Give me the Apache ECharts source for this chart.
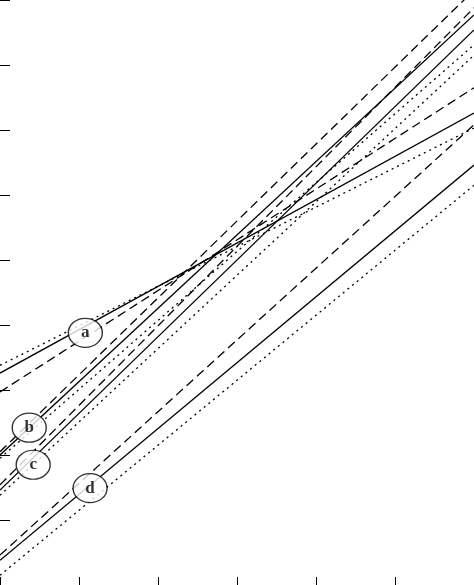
<!DOCTYPE html>
<html>
<head>
<meta charset="utf-8">
<script src="https://cdn.jsdelivr.net/npm/echarts@6/dist/echarts.min.js"></script>
<style>html,body{margin:0;padding:0;background:#fff}#chart{width:474px;height:585px}</style>
</head>
<body>
<div id="chart"></div>
<script>
// x positions of the two ends of each straight line
var xEnds = [0, 6];

// y values at the ends, [solid, dashed, dotted] per group
var aSolid = [3.26, 7.26], aDashed = [2.97, 7.65], aDotted = [3.38, 7.03];
var bSolid = [2.00, 8.77], bDashed = [2.05, 9.15], bDotted = [1.95, 8.31];
var cSolid = [1.46, 8.54], cDashed = [1.54, 8.88], cDotted = [1.38, 8.15];
var dSolid = [0.38, 6.46], dDashed = [0.46, 7.08], dDotted = [0.15, 6.15];

// circled labels
var labelNames = ['a', 'b', 'c', 'd'];
var labelX = [1.08, 0.37, 0.42, 1.14];
var labelY = [3.88, 2.42, 1.85, 1.49];

var styles = {
  solid: 'solid',
  dashed: [9, 5],
  dotted: [2, 4]
};

function line(vals, kind) {
  return {
    type: 'line',
    data: xEnds.map(function (x, i) { return [x, vals[i]]; }),
    symbol: 'none',
    lineStyle: { color: '#000', width: 1.3, type: styles[kind] },
    z: 2
  };
}

var series = [
  line(aSolid, 'solid'), line(aDashed, 'dashed'), line(aDotted, 'dotted'),
  line(bSolid, 'solid'), line(bDashed, 'dashed'), line(bDotted, 'dotted'),
  line(cSolid, 'solid'), line(cDashed, 'dashed'), line(cDotted, 'dotted'),
  line(dSolid, 'solid'), line(dDashed, 'dashed'), line(dDotted, 'dotted'),
  {
    type: 'scatter',
    z: 5,
    symbol: 'circle',
    symbolSize: [34, 29],
    itemStyle: { color: '#fff', borderColor: '#000', borderWidth: 1.3 },
    label: {
      show: true, position: 'inside', color: '#000',
      fontFamily: 'Liberation Serif', fontWeight: 'bold', fontSize: 17,
      formatter: function (p) { return labelNames[p.dataIndex]; }
    },
    data: labelX.map(function (x, i) { return [x, labelY[i]]; })
  }
];

var chart = echarts.init(document.getElementById('chart'));
chart.setOption({
  animation: false,
  backgroundColor: '#fff',
  grid: { left: 0, right: 0, top: 0, bottom: 0 },
  xAxis: {
    type: 'value', min: 0, max: 6, interval: 1,
    axisLine: { show: false }, axisLabel: { show: false }, splitLine: { show: false },
    axisTick: { show: true, inside: true, length: 8, lineStyle: { color: '#000' } }
  },
  yAxis: {
    type: 'value', min: 0, max: 9, interval: 1,
    axisLine: { show: false }, axisLabel: { show: false }, splitLine: { show: false },
    axisTick: { show: true, inside: true, length: 10, lineStyle: { color: '#000' } }
  },
  series: series
});
</script>
</body>
</html>
